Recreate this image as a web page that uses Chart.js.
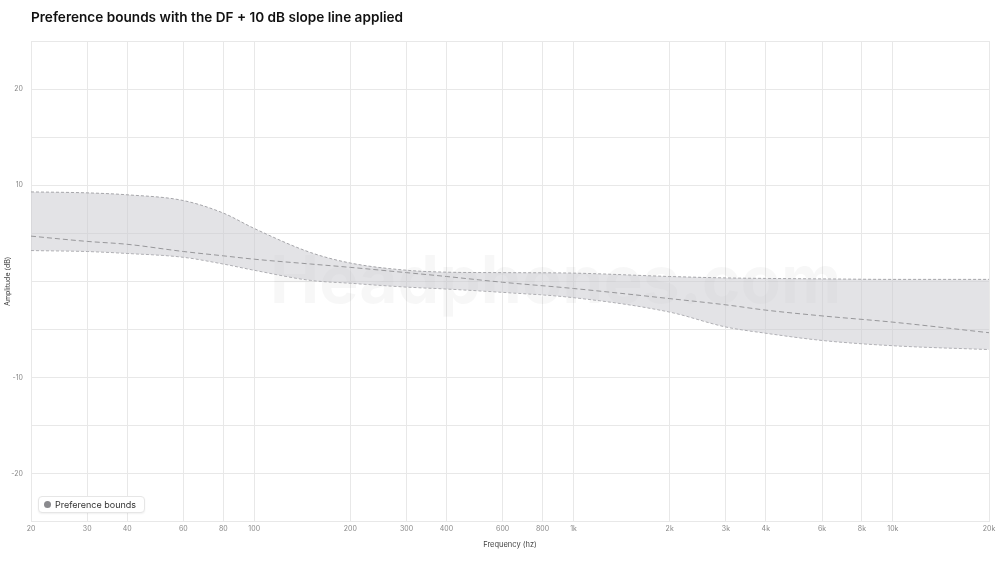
<!DOCTYPE html>
<html><head><meta charset="utf-8">
<script src="https://cdn.jsdelivr.net/npm/chart.js@4/dist/chart.umd.min.js"></script>
<style>
html,body{margin:0;padding:0;background:#fff;font-family:Inter,sans-serif}
#wrap{position:relative;width:1000px;height:563px}
#title{position:absolute;left:31px;top:9px;font-size:13.6px;font-weight:600;color:#111}
#legend{position:absolute;left:38px;top:496px;padding:2px 8px 2px 5px;border:1px solid #e6e6e6;border-radius:4px;background:#fff;font-size:9px;color:#333;box-shadow:0 1px 2px rgba(0,0,0,0.06);display:flex;align-items:center}
#legend span.dot{display:inline-block;width:7px;height:7px;border-radius:50%;background:#8a8a8e;margin-right:4px}
</style></head><body>
<div id="wrap">
<canvas id="c" width="1000" height="563"></canvas>
<div id="title">Preference bounds with the DF + 10 dB slope line applied</div>
<div id="legend"><span class="dot"></span>Preference bounds</div>
</div>
<script>
const freqs = [20,30,40,60,80,100,150,200,300,400,600,1000,2000,3000,4000,6000,10000,20000];
const upper = [9.3,9.2,9.0,8.4,7.1,5.5,3.0,1.9,1.15,0.95,0.9,0.85,0.5,0.35,0.3,0.25,0.2,0.2];
const lower = [3.2,3.1,2.9,2.5,1.8,1.15,0.1,-0.2,-0.6,-0.8,-1.15,-1.7,-3.2,-4.75,-5.4,-6.15,-6.7,-7.1];
const target = [4.7,4.15,3.85,3.1,2.65,2.3,1.8,1.45,0.9,0.5,-0.1,-0.75,-1.8,-2.45,-3.0,-3.6,-4.25,-5.35];
const xTicks = [20,30,40,60,80,100,200,300,400,600,800,1000,2000,3000,4000,6000,8000,10000,20000];
const yLabels = [20,10,-10,-20];
const xLabel = v => v>=1000 ? (v/1000)+'k' : String(v);
const pts = a => a.map((v,i)=>({x:freqs[i],y:v}));
const watermark = {id:'wm',beforeDatasetsDraw(ch){const c=ch.ctx;c.save();c.fillStyle='rgba(0,0,0,0.03)';c.font='bold 66px Inter';c.textBaseline='middle';c.fillText('Headphones.com',270,283);c.restore();}};
new Chart(document.getElementById('c'),{
 type:'line',
 data:{datasets:[
  {label:'Preference bounds',data:pts(upper),borderColor:'#a6a6aa',borderWidth:1,borderDash:[3,2],backgroundColor:'rgba(200,200,205,0.5)',fill:'+1',pointRadius:0,cubicInterpolationMode:'monotone'},
  {label:'lower',data:pts(lower),borderColor:'#a6a6aa',borderWidth:1,borderDash:[3,2],fill:false,pointRadius:0,cubicInterpolationMode:'monotone'},
  {label:'target',data:pts(target),borderColor:'#666',borderWidth:1,borderDash:[5,3],fill:false,pointRadius:0,cubicInterpolationMode:'monotone'}
 ]},
 options:{responsive:false,animation:false,
  layout:{padding:{left:0,right:11,top:41,bottom:10}},
  plugins:{legend:{display:false},tooltip:{enabled:false}},
  scales:{
   x:{type:'logarithmic',min:20,max:20000,
    afterBuildTicks(s){s.ticks=xTicks.map(v=>({value:v}));},
    ticks:{callback:v=>xLabel(v),color:'#888',font:{size:7,family:'Inter'},maxRotation:0,autoSkip:false},
    grid:{color:'#e8e8e8',drawTicks:false},border:{display:false},
    title:{display:true,text:'Frequency (hz)',color:'#444',font:{size:7.5,family:'Inter'}}},
   y:{min:-25,max:25,
    afterFit(s){s.width=31;},
    ticks:{stepSize:5,callback:v=>yLabels.includes(v)?String(v):'',color:'#888',font:{size:7,family:'Inter'},padding:8},
    grid:{color:'#e8e8e8',drawTicks:false},border:{display:false},
    title:{display:true,text:'Amplitude (dB)',color:'#444',font:{size:7,family:'Inter'}}}
  }},
 plugins:[watermark]
});
</script></body></html>
